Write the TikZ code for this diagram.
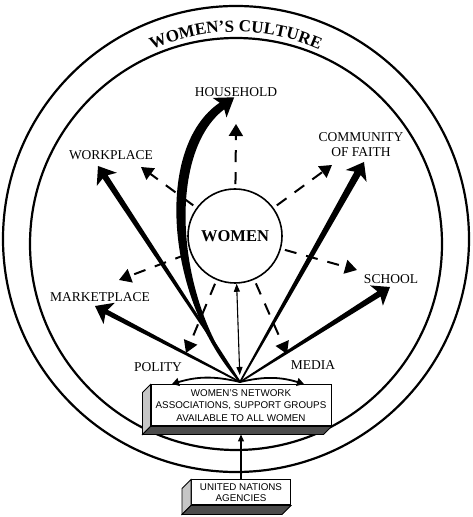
\documentclass[tikz,border=0pt]{standalone}
\usepackage{fontspec}
\setmainfont{Liberation Serif}
\setsansfont{Liberation Sans}
\usetikzlibrary{arrows.meta,calc,positioning}

\tikzset{
  sitelabel/.style={font=\fontsize{13.5}{15}\selectfont, inner sep=0pt, align=center},
  ringletter/.style={font=\bfseries\fontsize{17}{17}\selectfont, inner sep=0pt, anchor=base},
  womencircle/.style={draw, circle, line width=1.6pt, minimum size=94pt, inner sep=0pt,
    font=\bfseries\fontsize{16.5}{18}\selectfont},
  dasharrow/.style={line width=2pt, dash pattern=on 12pt off 10pt, shorten <=4pt,
    -{Triangle[width=14pt,length=12pt]}},
  linkarrow/.style={line width=1.8pt, -{Triangle[width=8pt,length=7pt]}},
  slimarrow/.style={line width=1.1pt, {Triangle[width=6pt,length=8pt]}-{Triangle[width=6pt,length=8pt]}},
  boxface/.style={draw, line width=1pt, fill=white, inner sep=2pt, align=center,
    font=\sffamily\fontsize{9.8}{12.8}\selectfont},
  sideface/.style={draw, line width=0.8pt, fill=gray!45},
  baseface/.style={draw, line width=0.8pt, fill=black!70},
}

% tapered arrow: start, tip, half width of the shaft at the head
\newcommand{\fatarrow}[3]{%
  \coordinate (fa-neck) at ($(#2)!13pt!(#1)$);
  \coordinate (fa-barb) at ($(#2)!16pt!(#1)$);
  \fill ($(#1)!0.8pt!90:(#2)$) -- ($(fa-neck)!#3!90:(#2)$) -- ($(fa-barb)!12pt!90:(#2)$) -- (#2)
    -- ($(fa-barb)!12pt!-90:(#2)$) -- ($(fa-neck)!#3!-90:(#2)$) -- ($(#1)!0.8pt!-90:(#2)$) -- cycle;
}

\begin{document}
\begin{tikzpicture}[x=1pt,y=1pt]
\useasboundingbox (0,0) rectangle (472,517);

% culture ring
\coordinate (ring) at (236,278);
\draw[line width=2.2pt] (ring) circle [radius=233];
\draw[line width=2.2pt] (236,273) circle [radius=206];
\foreach \ch/\a in {W/111.5, O/107.4, M/103.4, E/99.6, N/96.4, '/93.9, S/91.8,
                    C/87.6, U/84.2, L/80.9, T/77.8, U/74.5, R/71.1, E/67.8}
  \node[ringletter, rotate=\a-90] at ($(ring)+(\a:207)$) {\ch};

% centre
\node[womencircle] (women) at (235,281) {WOMEN};

% spheres
\node[sitelabel] (household) at (236,425) {HOUSEHOLD};
\node[sitelabel] (workplace) at (111,362) {WORKPLACE};
\node[sitelabel] (community) at (361,372.5) {COMMUNITY\\OF FAITH};
\node[sitelabel] (marketplace) at (100,220) {MARKETPLACE};
\node[sitelabel] (school) at (391,238) {SCHOOL};
\node[sitelabel] (polity) at (158,150) {POLITY};
\node[sitelabel] (media) at (313,152) {MEDIA};

% network and agencies boxes
\node[boxface, minimum width=180pt, minimum height=41pt] (net) at (241,111.5)
  {WOMEN'S NETWORK\\ASSOCIATIONS, SUPPORT GROUPS\\AVAILABLE TO ALL WOMEN};
\draw[sideface] (net.north west) -- ($(net.north west)+(-8,-8)$) -- ($(net.south west)+(-8,-8)$) -- (net.south west) -- cycle;
\draw[baseface] (net.south west) -- ($(net.south west)+(-8,-8)$) -- ($(net.south east)+(-8,-8)$) -- (net.south east) -- cycle;
\coordinate (netfoot) at ($(net.south)+(-8,-8)$);

\node[boxface, minimum width=99pt, minimum height=25pt, font=\sffamily\fontsize{9.8}{11.5}\selectfont] (un) at (241,24.5)
  {UNITED NATIONS\\AGENCIES};
\draw[sideface] (un.north west) -- ($(un.north west)+(-9,-9)$) -- ($(un.south west)+(-9,-9)$) -- (un.south west) -- cycle;
\draw[baseface] (un.south west) -- ($(un.south west)+(-9,-9)$) -- ($(un.south east)+(-9,-9)$) -- (un.south east) -- cycle;

\draw[line width=1.3pt, -{Triangle[width=6pt,length=7pt]}] (un.north) -- (un.north |- netfoot);

% heads of the arrows
\coordinate (hub) at (240,135);
\coordinate (workhead) at (98,351);
\coordinate (markethead) at (95,211);
\coordinate (faithhead) at (364,355);
\coordinate (schoolhead) at (390,230);
\coordinate (polityend) at (172,133);
\coordinate (mediaend) at (304,133);

\coordinate (dash-up) at (236,393);
\coordinate (dash-upleft) at (141,350);
\coordinate (dash-upright) at (332,352);
\coordinate (dash-left) at (119,237);
\coordinate (dash-right) at (357,247);
\coordinate (dash-downleft) at (186,164);
\coordinate (dash-downright) at (287,163);

% women reach out
\foreach \t in {up,upleft,upright,left,right,downleft,downright}
  \draw[dasharrow] (women) -- (dash-\t);

% network reaches in
\fatarrow{hub}{workhead}{3pt}
\fatarrow{hub}{markethead}{2.5pt}
\fatarrow{hub}{faithhead}{3.5pt}
\fatarrow{hub}{schoolhead}{3pt}
\fill (239,135) .. controls (165,219) and (154,370) .. (219.7,414.3)
  -- (212.7,419.1) -- (234.2,419.7) -- (226.5,399.5) -- (224.3,407.7)
  .. controls (166,364) and (175,215) .. (241,135) -- cycle;

\draw[slimarrow, shorten >=7pt] (women) -- (hub);
\draw[linkarrow] (hub) to[bend right=15] (polityend);
\draw[linkarrow] (hub) to[bend left=15] (mediaend);

\end{tikzpicture}
\end{document}
